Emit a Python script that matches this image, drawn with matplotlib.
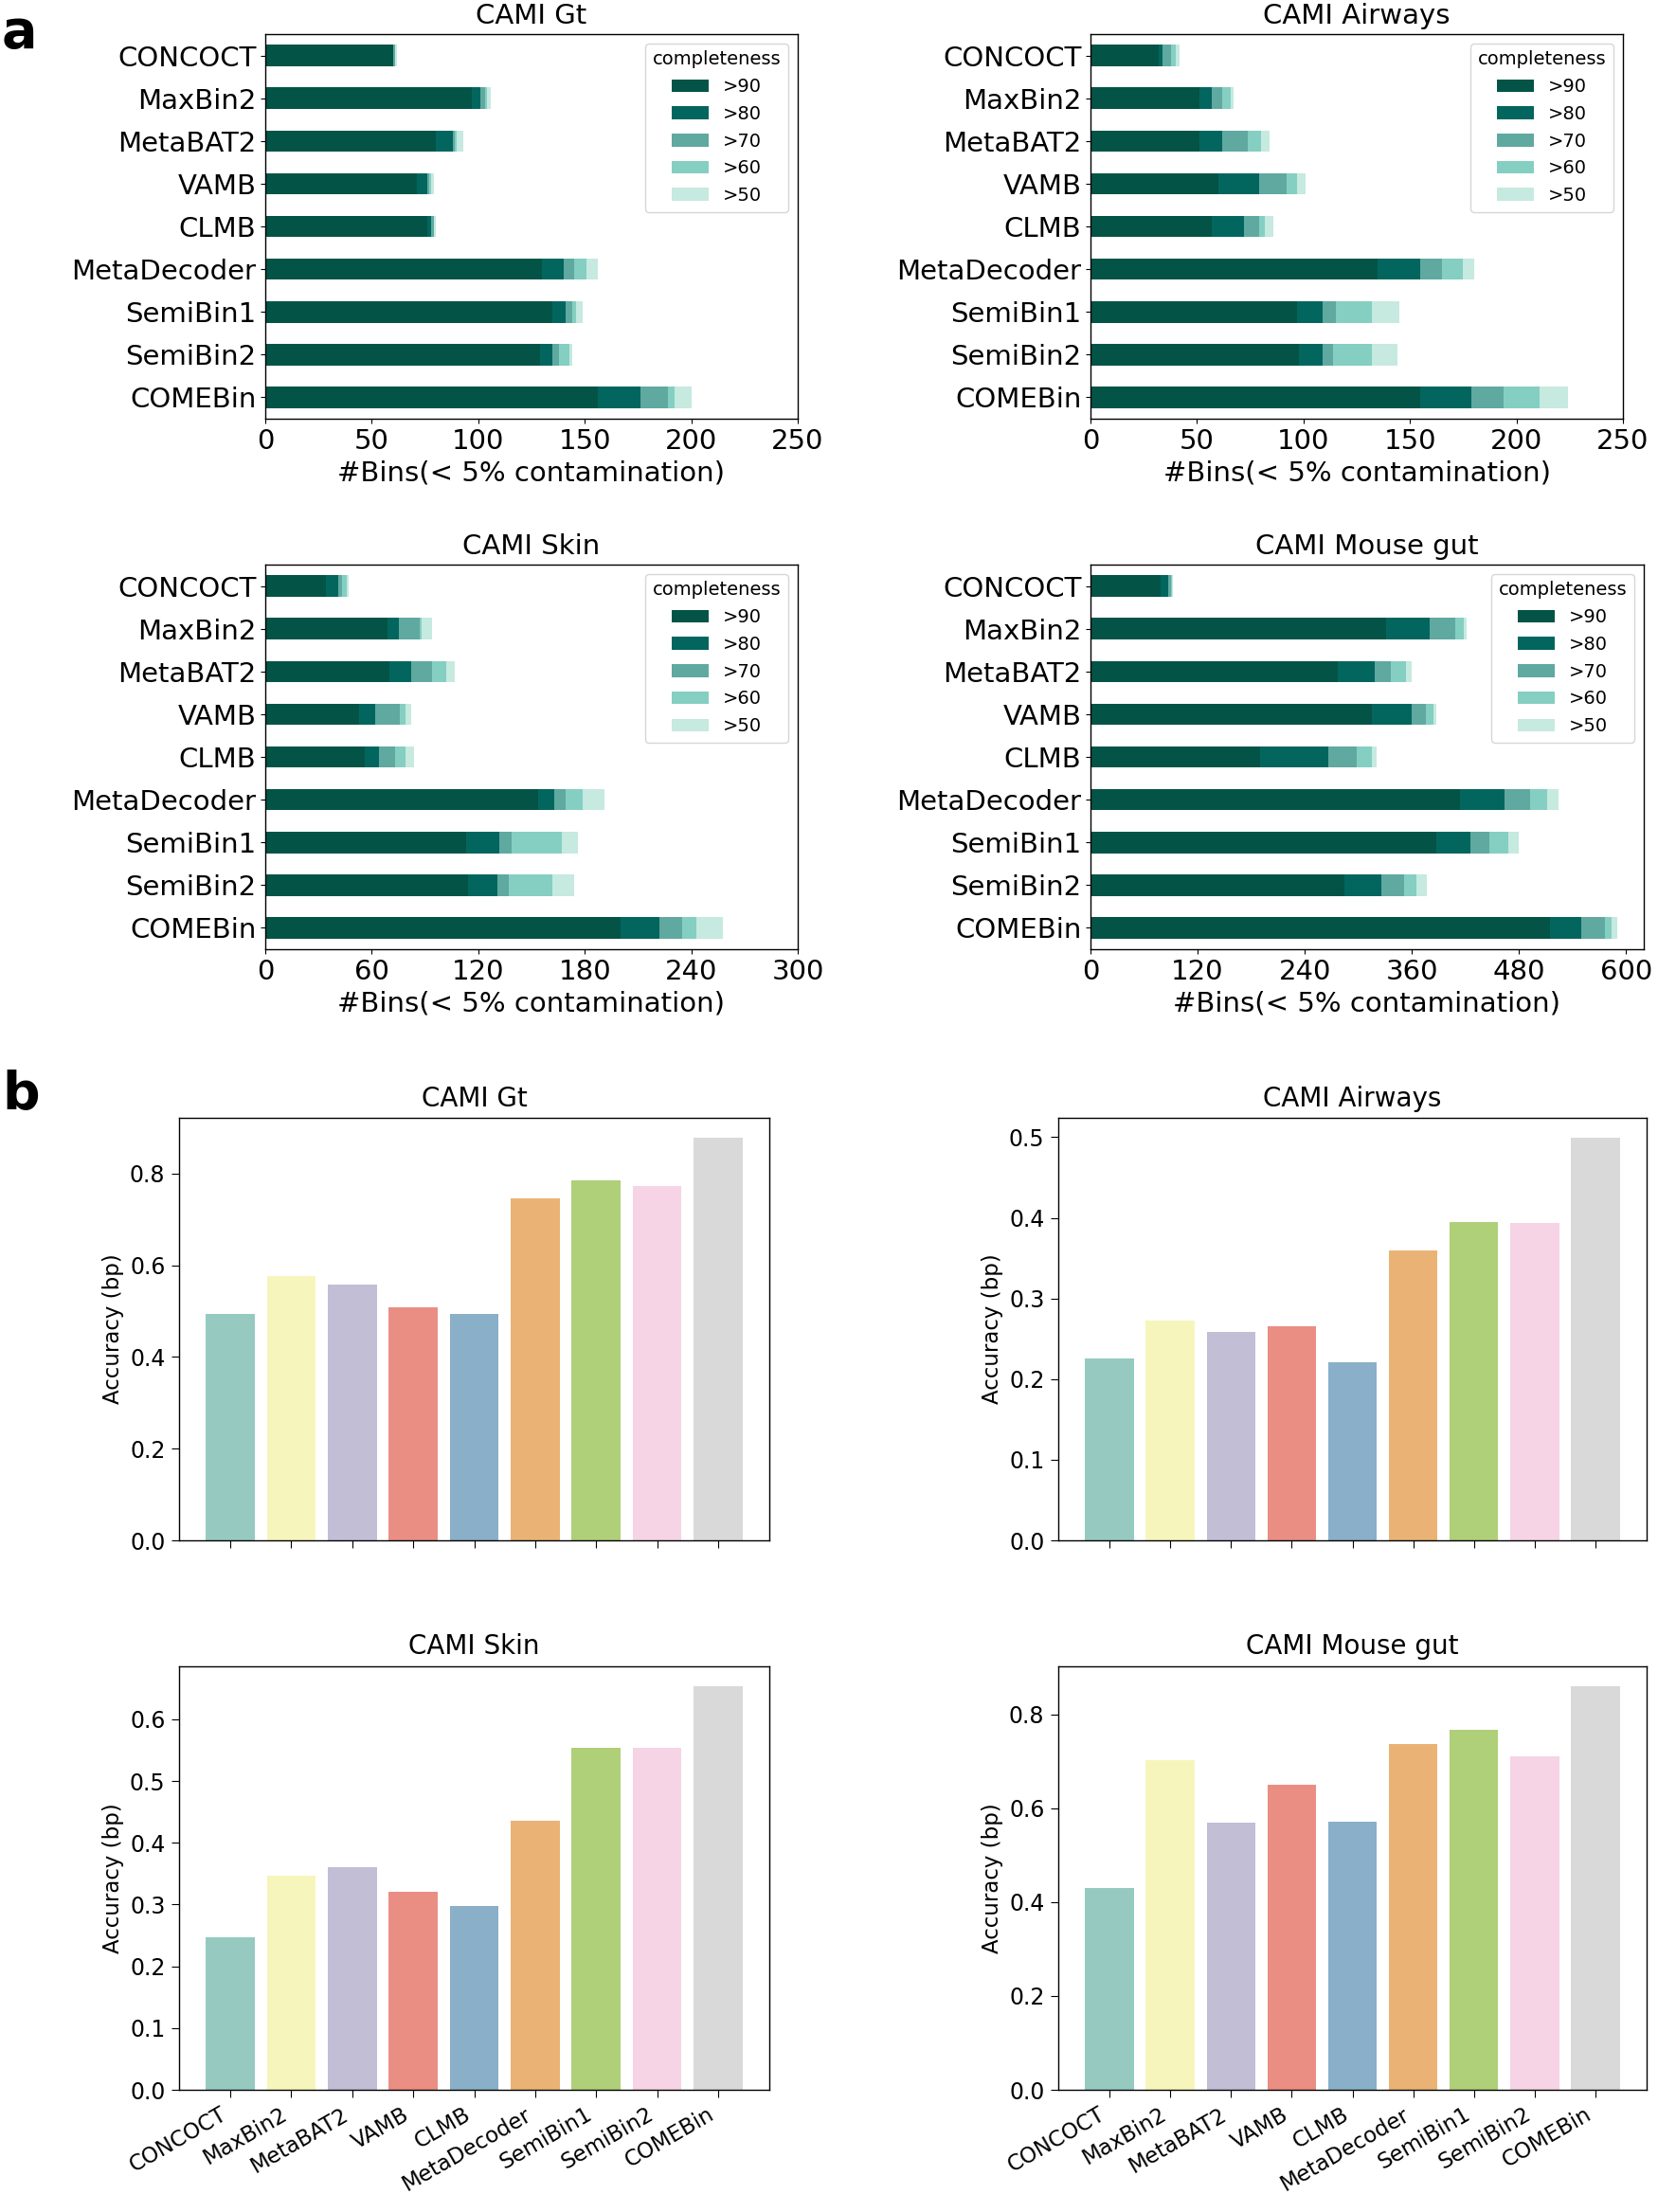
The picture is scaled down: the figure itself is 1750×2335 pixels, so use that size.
import matplotlib
matplotlib.use("Agg")
import matplotlib.pyplot as plt
import seaborn as sns
import numpy as np

plt.rcParams['font.family'] = ['DejaVu Sans']

methods = ["CONCOCT", "MaxBin2", "MetaBAT2", "VAMB", "CLMB", "MetaDecoder",
           "SemiBin1", "SemiBin2", "COMEBin"]
thresholds = [">90", ">80", ">70", ">60", ">50"]

# cumulative number of bins (<5% contamination) with completeness above each threshold
gt_bins = [
    [60, 97, 80, 71, 76, 130, 135, 129, 156],
    [60, 101, 88, 76, 78, 140, 141, 135, 176],
    [61, 103, 89, 77, 79, 145, 144, 138, 189],
    [61, 104, 90, 78, 79, 151, 146, 143, 192],
    [62, 106, 93, 79, 80, 156, 149, 144, 200],
]
airways_bins = [
    [32, 51, 51, 60, 57, 135, 97, 98, 155],
    [34, 57, 62, 79, 72, 155, 109, 109, 179],
    [38, 62, 74, 92, 79, 165, 115, 114, 194],
    [40, 66, 80, 97, 82, 175, 132, 132, 211],
    [42, 67, 84, 101, 86, 180, 145, 144, 224],
]
skin_bins = [
    [34, 69, 70, 53, 56, 154, 113, 114, 200],
    [41, 75, 82, 62, 64, 163, 132, 131, 222],
    [43, 87, 94, 76, 73, 169, 139, 137, 235],
    [46, 88, 102, 79, 79, 179, 167, 162, 243],
    [47, 94, 107, 82, 84, 191, 176, 174, 258],
]
mouse_bins = [
    [79, 331, 277, 315, 190, 414, 388, 284, 515],
    [87, 380, 318, 360, 267, 464, 426, 326, 550],
    [90, 409, 337, 376, 298, 493, 447, 351, 577],
    [91, 418, 354, 384, 315, 512, 468, 365, 584],
    [92, 422, 360, 387, 321, 524, 480, 377, 590],
]

# accuracy (bp)
gt_acc = [0.495, 0.576, 0.558, 0.508, 0.493, 0.747, 0.785, 0.773, 0.878]
airways_acc = [0.226, 0.272, 0.258, 0.265, 0.221, 0.359, 0.395, 0.393, 0.499]
skin_acc = [0.247, 0.346, 0.360, 0.321, 0.297, 0.436, 0.554, 0.554, 0.653]
mouse_acc = [0.430, 0.702, 0.570, 0.651, 0.571, 0.737, 0.767, 0.712, 0.860]

titles = ["CAMI Gt", "CAMI Airways", "CAMI Skin", "CAMI Mouse gut"]

stack_colors = ["#035446", "#03665e", "#5fa9a0", "#84cfc2", "#c6e9e0"]
set3 = ["#8dd3c7", "#ffffb3", "#bebada", "#fb8072", "#80b1d3",
        "#fdb462", "#b3de69", "#fccde5", "#d9d9d9"]
bar_colors = [sns.desaturate(c, 0.75) for c in set3]

W, H = 1750, 2335
fig = plt.figure(figsize=(W / 100, H / 100), dpi=100)


def ax_px(left, right, top, bottom):
    return fig.add_axes([left / W, 1 - bottom / H, (right - left) / W, (bottom - top) / H])


# ---------- panel a ----------
a_boxes = [(280, 842, 36, 442), (1151, 1713, 36, 442),
           (280, 842, 596, 1002), (1151, 1735, 596, 1002)]
a_data = [gt_bins, airways_bins, skin_bins, mouse_bins]
a_ticks = [range(0, 251, 50), range(0, 251, 50), range(0, 301, 60), range(0, 601, 120)]
a_xlim = [250, 250, 300, 620]

for box, data, ticks, xl, title in zip(a_boxes, a_data, a_ticks, a_xlim, titles):
    ax = ax_px(*box)
    y = np.arange(len(methods))
    prev = np.zeros(len(methods))
    for lab, cum, col in zip(thresholds, data, stack_colors):
        cum = np.array(cum, dtype=float)
        ax.barh(y, cum - prev, left=prev, height=0.5, color=col, label=lab)
        prev = cum
    ax.set_ylim(8.5, -0.5)
    ax.set_xlim(0, xl)
    ax.set_xticks(list(ticks))
    ax.set_yticks(y)
    ax.set_yticklabels(methods)
    ax.tick_params(labelsize=21)
    ax.set_xlabel("#Bins(< 5% contamination)", fontsize=21)
    ax.set_title(title, fontsize=21, pad=8)
    leg = ax.legend(title="completeness", loc="upper right", fontsize=14,
                    title_fontsize=14)
    for s in ax.spines.values():
        s.set_linewidth(1.0)

# ---------- panel b ----------
b_boxes = [(189, 812, 1180, 1626), (1117, 1738, 1180, 1626),
           (189, 812, 1759, 2206), (1117, 1738, 1759, 2206)]
b_data = [gt_acc, airways_acc, skin_acc, mouse_acc]

for i, (box, data, title) in enumerate(zip(b_boxes, b_data, titles)):
    ax = ax_px(*box)
    x = np.arange(len(methods))
    ax.bar(x, data, width=0.8, color=bar_colors)
    ax.set_xticks(x)
    if i >= 2:
        ax.set_xticklabels(methods, rotation=30, ha="right", fontsize=16.5)
    else:
        ax.set_xticklabels([])
    ax.tick_params(axis="y", labelsize=17)
    ax.tick_params(length=5.5, pad=5)
    ax.set_ylabel("Accuracy (bp)", fontsize=16.5)
    ax.set_title(title, fontsize=20, pad=9)
    for s in ax.spines.values():
        s.set_linewidth(1.0)

fig.text(2 / W, 1 - 50 / H, "a", fontsize=40, fontweight="bold", va="baseline", ha="left")
fig.text(2 / W, 1 - 1170 / H, "b", fontsize=40, fontweight="bold", va="baseline", ha="left")

fig.savefig("out.png", dpi=100)
